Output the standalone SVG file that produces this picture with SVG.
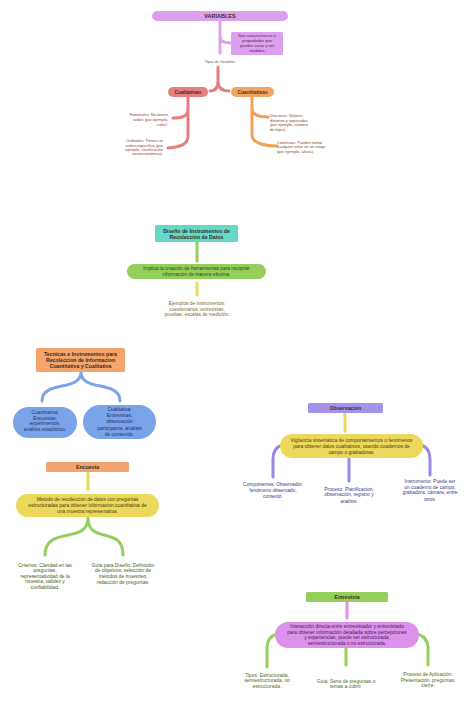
<svg xmlns="http://www.w3.org/2000/svg" width="474" height="703" viewBox="0 0 474 703">
<style>
text{font-family:"Liberation Sans",Arial,sans-serif;text-anchor:middle}
.t{font-weight:bold;font-size:5.2px;fill:#3a2a20}
.s{font-size:4px}
.p{font-size:4.8px}
.l{font-size:4.9px}
.c{fill:none;stroke-linecap:round;stroke-width:3}
.e{text-anchor:end}
.st{text-anchor:start}
</style>
<rect width="474" height="703" fill="#ffffff"/>
<g id="connectors">
<path class="c" stroke="#dda0ee" d="M220,21 L220,53 M220,36 C220,41 223,43 231,43"/>
<path class="c" stroke="#e57f7f" d="M218,67 L218,81 C218,88 215,91 210,91 M218,81 C218,88 222,91 229,91"/>
<path class="c" stroke="#e57f7f" d="M188,97 L188,109 C188,116 183,118 173,118 M188,109 L188,136 C188,144 181,147 168,148"/>
<path class="c" stroke="#f0a25c" d="M252,97 L252,108 C252,115 258,117 268,117 M252,108 L252,135 C252,143 264,146 277,146"/>
<path class="c" stroke="#94cf5c" d="M197,242 L197,261"/>
<path class="c" stroke="#ecd85a" d="M197,283 L197,295"/>
<path class="c" stroke="#7aa3ea" d="M81,372 C81,392 42,380 42,401 M81,372 C81,392 120,380 120,401"/>
<path class="c" stroke="#ecd85a" d="M88,472 L88,490"/>
<path class="c" stroke="#94cf5c" d="M88,518 C88,545 45,525 45,555 M88,518 C88,545 123,525 123,555"/>
<path class="c" stroke="#ecd85a" d="M345,413 L345,431"/>
<path class="c" stroke="#9a88e6" d="M282,445 C276,447 273,451 273,459 L273,477 M349,459 L349,481 M421,445 C427,447 430,451 430,459 L430,475"/>
<path class="c" stroke="#dc92ea" d="M347,602 L347,618"/>
<path class="c" stroke="#94cf5c" d="M277,634 C270,636 267,640 267,648 L267,667 M346,649 L346,665 M417,634 C424,636 428,640 428,648 L428,665"/>
</g>
<g id="variables">
<rect x="152" y="11" width="136" height="10" rx="5" fill="#dda0ee"/>
<text class="t" x="220" y="18" style="font-size:5.5px">VARIABLES</text>
</g>
<g id="definicion">
<rect x="231" y="32" width="52" height="23" rx="1.5" fill="#dda0ee"/>
<text class="s" x="257" fill="#4a2a50"><tspan x="257" y="37">Son características o</tspan><tspan x="257" y="42">propiedades que</tspan><tspan x="257" y="47.3">pueden variar y ser</tspan><tspan x="257" y="52.3">medidas</tspan></text>
</g>
<g id="tipos">
<text x="220" y="62.5" style="font-size:3.7px" fill="#555555">Tipos de Variables</text>
</g>
<g id="cualitativas">
<rect x="168" y="87" width="40" height="10" rx="5" fill="#e58080"/>
<text class="t" x="188" y="93.8" style="font-size:4.8px;fill:#5a1a1a">Cualitativas</text>
</g>
<g id="cuantitativas">
<rect x="231" y="87" width="43" height="10" rx="5" fill="#f2a462"/>
<text class="t" x="252.5" y="93.8" style="font-size:4.8px;fill:#5a3010">Cuantitativas</text>
</g>
<g id="nominales">
<text class="s e" fill="#9a3a3a"><tspan x="168" y="116.3">Nominales: No tienen</tspan><tspan x="168" y="120.8">orden (por ejemplo,</tspan><tspan x="168" y="125.5">color).</tspan></text>
</g>
<g id="ordinales">
<text class="s e" fill="#9a3a3a"><tspan x="163" y="142">Ordinales: Tienen un</tspan><tspan x="163" y="146.5">orden específico (por</tspan><tspan x="163" y="150.7">ejemplo, clasificación</tspan><tspan x="163" y="155">socioeconómica).</tspan></text>
</g>
<g id="discretas">
<text class="s st" fill="#8a4a1a"><tspan x="270" y="117.4">Discretas: Valores</tspan><tspan x="270" y="122">distintos y separados</tspan><tspan x="270" y="126.4">(por ejemplo, número</tspan><tspan x="270" y="131.4">de hijos).</tspan></text>
</g>
<g id="continuas">
<text class="s st" fill="#8a4a1a"><tspan x="277" y="144">Continuas: Pueden tomar</tspan><tspan x="277" y="148.4">cualquier valor en un rango</tspan><tspan x="277" y="153.4">(por ejemplo, altura).</tspan></text>
</g>
<g id="diseno">
<rect x="155" y="225" width="83" height="17" rx="1.5" fill="#66d8c6"/>
<text class="t" fill="#1e3a36"><tspan x="196.5" y="232.5">Diseño de Instrumentos de</tspan><tspan x="196.5" y="239.4">Recolección de Datos</tspan></text>
</g>
<g id="implica">
<rect x="127" y="264" width="139" height="15" rx="7.5" fill="#94cf5c"/>
<text class="p" fill="#2a4a10"><tspan x="196.5" y="270">Implica la creación de herramientas para recopilar</tspan><tspan x="196.5" y="276">información de manera efectiva.</tspan></text>
</g>
<g id="ejemplos">
<text class="p" fill="#7a6a30"><tspan x="197" y="304.7">Ejemplos de instrumentos:</tspan><tspan x="197" y="310.5">cuestionarios, entrevistas,</tspan><tspan x="197" y="316.3">pruebas, escalas de medición.</tspan></text>
</g>
<g id="tecnicas">
<rect x="36" y="348" width="89" height="24" rx="1.5" fill="#f4a56c"/>
<text class="t" fill="#3a2010"><tspan x="80.5" y="356.3">Tecnicas e Instrumentos para</tspan><tspan x="80.5" y="361.9">Recoleccion de Informacion</tspan><tspan x="80.5" y="367.5">Cuantitativa y Cualitativa</tspan></text>
</g>
<g id="cuantitativa">
<rect x="13" y="407" width="64" height="31" rx="15.5" fill="#7aa3ea"/>
<text class="l" fill="#1a2f6a"><tspan x="45" y="413.8">Cuantitativa:</tspan><tspan x="45" y="419.5">Encuestas,</tspan><tspan x="45" y="425.3">experimentos,</tspan><tspan x="45" y="431.3">análisis estadístico.</tspan></text>
</g>
<g id="cualitativa">
<rect x="83" y="405" width="73" height="34" rx="17" fill="#7aa3ea"/>
<text class="l" fill="#1a2f6a"><tspan x="119.5" y="411">Cualitativa:</tspan><tspan x="119.5" y="417.3">Entrevistas,</tspan><tspan x="119.5" y="423.4">observación</tspan><tspan x="119.5" y="430">participante, análisis</tspan><tspan x="119.5" y="436.4">de contenido.</tspan></text>
</g>
<g id="encuesta">
<rect x="46" y="462" width="83" height="10" rx="1.5" fill="#f2a46e"/>
<text class="t" x="87.5" y="469">Encuesta</text>
</g>
<g id="metodo">
<rect x="16" y="494" width="143" height="23" rx="11.5" fill="#ecd85a"/>
<text class="l" fill="#4a4010"><tspan x="87.5" y="501">Metodo de recoleccion de datos con preguntas</tspan><tspan x="87.5" y="506.8">estructuradas para obtener informacion cuantitativa de</tspan><tspan x="87.5" y="512.7">una muestra representativa.</tspan></text>
</g>
<g id="criterios">
<text class="l" fill="#4a5a20"><tspan x="45" y="566.7">Criterios: Claridad en las</tspan><tspan x="45" y="572">preguntas,</tspan><tspan x="45" y="577.5">representatividad de la</tspan><tspan x="45" y="583.3">muestra, validez y</tspan><tspan x="45" y="589">confiabilidad.</tspan></text>
</g>
<g id="guia-diseno">
<text class="l" fill="#4a5a20"><tspan x="123" y="566.7">Guía para Diseño: Definición</tspan><tspan x="123" y="572.3">de objetivos, selección de</tspan><tspan x="123" y="578">métodos de muestreo,</tspan><tspan x="123" y="583.7">redacción de preguntas.</tspan></text>
</g>
<g id="observacion">
<rect x="308" y="403" width="75" height="10" rx="1.5" fill="#a493ea"/>
<text class="t" x="345.5" y="410" fill="#2a2050">Observacion</text>
</g>
<g id="vigilancia">
<rect x="280" y="434" width="143" height="24" rx="12" fill="#ecd85a"/>
<text class="l" fill="#4a4010"><tspan x="351.5" y="441.7">Vigilancia sistemática de comportamientos o fenómenos</tspan><tspan x="351.5" y="448.2">para obtener datos cualitativos, usando cuadernos de</tspan><tspan x="351.5" y="454">campo o grabadoras.</tspan></text>
</g>
<g id="componentes">
<text class="l" fill="#3a3a8a"><tspan x="273" y="486">Componentes: Observador,</tspan><tspan x="273" y="491.7">fenómeno observado,</tspan><tspan x="273" y="498.3">contexto.</tspan></text>
</g>
<g id="proceso">
<text class="l" fill="#3a3a8a"><tspan x="349" y="490.7">Proceso: Planificacion,</tspan><tspan x="349" y="496">observacion, registro y</tspan><tspan x="349" y="502.6">analisis.</tspan></text>
</g>
<g id="instrumento">
<text class="l" fill="#3a3a8a"><tspan x="430" y="483.4">Instrumento: Puede ser</tspan><tspan x="430" y="489">un cuaderno de campo,</tspan><tspan x="430" y="494.4">grabadora, cámara, entre</tspan><tspan x="430" y="501">otros.</tspan></text>
</g>
<g id="entrevista">
<rect x="306" y="592" width="82" height="10" rx="1.5" fill="#94cf5c"/>
<text class="t" x="347" y="599" fill="#1e3a10">Entrevista</text>
</g>
<g id="interaccion">
<rect x="275" y="622" width="144" height="26" rx="13" fill="#dc92ea"/>
<text class="l" fill="#4a1a5a"><tspan x="347" y="628.4">Interacción directa entre entrevistador y entrevistado</tspan><tspan x="347" y="633.8">para obtener información detallada sobre percepciones</tspan><tspan x="347" y="639.4">y experiencias, puede ser estructurada,</tspan><tspan x="347" y="645.3">semiestructurada o no estructurada.</tspan></text>
</g>
<g id="tipos-entrevista">
<text class="l" fill="#4a6a20"><tspan x="267" y="676.7">Tipos: Estructurada,</tspan><tspan x="267" y="682.4">semiestructurada, no</tspan><tspan x="267" y="688.4">estructurada.</tspan></text>
</g>
<g id="guia">
<text class="l" fill="#4a6a20"><tspan x="346" y="683.4">Guía: Serie de preguntas o</tspan><tspan x="346" y="688.4">temas a cubrir.</tspan></text>
</g>
<g id="aplicacion">
<text class="l" fill="#4a6a20"><tspan x="428" y="676">Proceso de Aplicación:</tspan><tspan x="428" y="681.7">Presentación, preguntas,</tspan><tspan x="428" y="687.4">cierre.</tspan></text>
</g>
</svg>
